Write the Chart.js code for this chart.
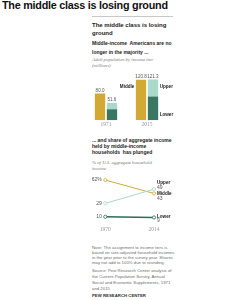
<!DOCTYPE html>
<html>
<head>
<meta charset="utf-8">
<script src="https://cdn.jsdelivr.net/npm/chart.js@4.4.1/dist/chart.umd.min.js"></script>
<style>
  html, body { margin: 0; padding: 0; background: #fff; }
  body { width: 245px; height: 300px; position: relative; overflow: hidden; font-family: "Liberation Sans", Arial, sans-serif; }
  canvas { position: absolute; left: 0; top: 0; }
  .t { position: absolute; white-space: nowrap; }
  .page-title { left: 2px; top: 0px; font-size: 10.8px; line-height: 11px; font-weight: bold; letter-spacing: -0.25px; color: #111; }
  .rule { position: absolute; left: 92px; width: 81px; top: 16px; border-top: 1.2px solid #c8c8c8; }
  .ptitle { left: 92px; font-size: 6px; font-weight: bold; color: #222; line-height: 8.6px; }
  .sub { left: 92px; font-size: 5px; font-weight: bold; color: #222; }
  .ital { left: 92px; font-family: "Liberation Serif", Georgia, serif; font-style: italic; font-size: 4.8px; color: #777; line-height: 6px; }
  .note { left: 92px; font-size: 4.3px; color: #6e6e6e; }
  .pew { left: 92px; font-size: 4.3px; font-weight: bold; color: #333; }
</style>
</head>
<body>
<div class="t page-title">The middle class is losing ground</div>
<div class="rule"></div>
<div class="t ptitle" style="top:20.8px">The middle class is losing<br>ground</div>
<div class="t sub" style="top:39.3px; line-height:8.2px">Middle-income&nbsp; Americans are no<br>longer in the majority ...</div>
<div class="t ital" style="top:56.7px">Adult population by income tier<br>(millions)</div>
<div class="t sub" style="top:137px; line-height:6.2px">... and share of aggregate income<br>held by middle-income<br>households&nbsp; has plunged</div>
<div class="t ital" style="top:159.7px">% of U.S. aggregate household<br>income</div>
<div class="t note" style="top:246.3px; line-height:4.8px">Note: The assignment to income tiers is<br>based on size-adjusted household incomes<br>in the year prior to the survey year. Shares<br>may not add to 100% due to rounding.</div>
<div class="t note" style="top:268.3px; line-height:5.9px">Source: Pew Research Center analysis of<br>the Current Population Survey, Annual<br>Social and Economic Supplements, 1971<br>and 2015</div>
<div class="t pew" style="top:292.8px; line-height:5px">PEW RESEARCH CENTER</div>

<canvas id="barChart" width="245" height="300"></canvas>
<canvas id="lineChart" width="245" height="300"></canvas>

<script>
// adult population by income tier (millions)
const popYears = ['1971', '2015'];
const popMiddle = [80.0, 120.8];
const popLower = [33.0, 70.5];
const popUpper = [18.6, 50.8];

// share of aggregate household income (%)
const shareYears = ['1970', '2014'];
const shareUpper = [29, 49];
const shareMiddle = [62, 43];
const shareLower = [10, 9];

const GOLD = '#d2a933';
const LIGHT = '#a9d8cc';
const DARK = '#3a7763';

Chart.defaults.font.family = '"Liberation Sans", Arial, sans-serif';
Chart.defaults.animation = false;

const barLabels = {
    id: 'barLabels',
    afterDatasetsDraw: (chart) => {
        const { ctx, scales: { y } } = chart;
        const mid = chart.getDatasetMeta(0).data;
        const up = chart.getDatasetMeta(2).data;
        ctx.save();
        ctx.textAlign = 'center';
        ctx.textBaseline = 'bottom';
        ctx.fillStyle = '#555';
        ctx.font = '4.5px "Liberation Sans", Arial, sans-serif';
        popYears.forEach((yr, i) => {
            ctx.fillText(popMiddle[i].toFixed(1), mid[i].x, mid[i].y - 0.8);
            ctx.fillText((popLower[i] + popUpper[i]).toFixed(1), up[i].x, up[i].y - 0.8);
        });
        // tier names beside the 2015 bars
        const last = popYears.length - 1;
        ctx.font = 'bold 4.6px "Liberation Sans", Arial, sans-serif';
        ctx.fillStyle = '#222';
        ctx.textBaseline = 'middle';
        ctx.textAlign = 'right';
        ctx.fillText('Middle', mid[last].x - mid[last].width / 2 - 1.5, y.getPixelForValue(100));
        ctx.textAlign = 'left';
        ctx.fillText('Upper', up[last].x + up[last].width / 2 + 1.5, y.getPixelForValue(100));
        ctx.fillText('Lower', up[last].x + up[last].width / 2 + 1.5, y.getPixelForValue(17));
        ctx.restore();
    }
};

new Chart(document.getElementById('barChart'), {
    type: 'bar',
    data: {
        labels: popYears,
        datasets: [
            { label: 'Middle', data: popMiddle, backgroundColor: GOLD, stack: 'mid' },
            { label: 'Lower', data: popLower, backgroundColor: DARK, stack: 'rest' },
            { label: 'Upper', data: popUpper, backgroundColor: LIGHT, stack: 'rest' }
        ]
    },
    plugins: [barLabels],
    options: {
        responsive: false,
        devicePixelRatio: 1,
        categoryPercentage: 0.585,
        barPercentage: 0.86,
        layout: { padding: { left: 85.5, right: 77.5, top: 69.9, bottom: 172.1 } },
        plugins: { legend: { display: false }, tooltip: { enabled: false } },
        scales: {
            x: {
                stacked: true,
                grid: { display: false, drawTicks: false },
                border: { display: false },
                ticks: { color: '#999', padding: 0.5, font: { family: '"Liberation Serif", Georgia, serif', size: 5.5 } }
            },
            y: { stacked: true, display: false, min: 0, max: 150 }
        }
    }
});

const lineLabels = {
    id: 'lineLabels',
    afterDatasetsDraw: (chart) => {
        const { ctx } = chart;
        // name offset, value offset (px) for the right-hand labels
        const place = [[-6, -2], [0, 5], [-1, 3]];
        ctx.save();
        chart.data.datasets.forEach((ds, k) => {
            const pts = chart.getDatasetMeta(k).data;
            const first = pts[0];
            const lastPt = pts[pts.length - 1];
            ctx.textBaseline = 'middle';
            ctx.textAlign = 'right';
            ctx.fillStyle = '#555';
            ctx.font = '5px "Liberation Sans", Arial, sans-serif';
            ctx.fillText(ds.data[0] + (k === 1 ? '%' : ''), first.x - 3.5, first.y);
            ctx.textAlign = 'left';
            ctx.font = 'bold 4.6px "Liberation Sans", Arial, sans-serif';
            ctx.fillStyle = '#222';
            ctx.fillText(ds.label, lastPt.x + 3, lastPt.y + place[k][0]);
            ctx.font = '5px "Liberation Sans", Arial, sans-serif';
            ctx.fillStyle = '#555';
            ctx.fillText(String(ds.data[ds.data.length - 1]), lastPt.x + 3, lastPt.y + place[k][1]);
        });
        ctx.restore();
    }
};

new Chart(document.getElementById('lineChart'), {
    type: 'line',
    data: {
        labels: shareYears,
        datasets: [
            { label: 'Upper', data: shareUpper, borderColor: LIGHT, borderWidth: 1 },
            { label: 'Middle', data: shareMiddle, borderColor: GOLD, borderWidth: 1 },
            { label: 'Lower', data: shareLower, borderColor: '#2f6b59', borderWidth: 1.5 }
        ].map(d => Object.assign(d, {
            pointRadius: 1.6,
            pointBorderWidth: 0.8,
            pointBackgroundColor: '#fff',
            pointBorderColor: d.borderColor,
            tension: 0
        }))
    },
    plugins: [lineLabels],
    options: {
        responsive: false,
        devicePixelRatio: 1,
        layout: { padding: { left: 105.3, right: 91, top: 174.4, bottom: 65.2 } },
        plugins: { legend: { display: false }, tooltip: { enabled: false } },
        scales: {
            x: {
                offset: false,
                grid: { display: false, drawTicks: false },
                border: { display: false },
                ticks: { color: '#999', padding: 2.2, font: { family: '"Liberation Serif", Georgia, serif', size: 5.5 } }
            },
            y: { display: false, min: 0, max: 70 }
        }
    }
});
</script>
</body>
</html>
